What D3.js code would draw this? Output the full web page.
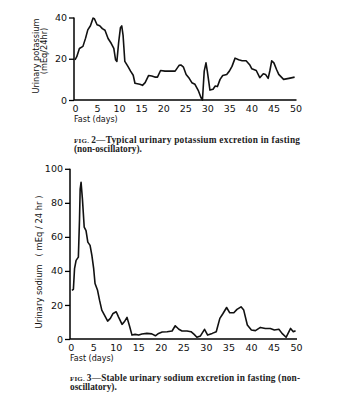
<!DOCTYPE html>
<html><head><meta charset="utf-8">
<script src="https://cdn.jsdelivr.net/npm/d3@7"></script>
<style>
html,body{margin:0;padding:0;background:#fff;}
svg{display:block;}
.tick text{font-family:"DejaVu Sans",sans-serif;}
</style>
</head><body>
<svg id="c" width="357" height="415"></svg>
<script>
// Fig. 2 — urinary potassium (mEq/24hr) by fast day
const kDays = [0,0.4,1,1.8,2.4,2.9,3.5,4.1,4.4,5.0,5.6,6.2,6.8,7.5,8.2,8.8,9.2,9.5,9.9,10.3,10.6,10.9,11.3,12.0,12.6,13.2,13.6,14.7,15.3,15.9,16.7,17.4,18.1,18.7,19.4,20.4,21.5,22.7,23.6,24.0,24.6,25.2,25.9,26.5,27.2,28.0,28.6,28.9,29.3,29.7,30.0,30.6,31.3,31.8,32.3,32.9,33.5,34.4,35.0,35.6,36.3,37.1,37.9,38.8,39.6,40.1,41.1,41.9,42.7,43.2,43.8,44.2,44.6,45.1,45.7,46.2,47.3,48.5,49.8];
const kValues = [19.5,21,25,26,30,34,36,39.7,39.4,36.5,36,34.6,33.8,29.8,27.5,25,19.5,18.7,28,35,35.9,31.4,18.7,16.3,14,12,8.1,7.6,7.1,8.4,11.9,11.6,11.1,11.1,14.3,14,14,14,16.8,17,15.9,12.4,10.5,8.4,7.6,4.4,1,0,14,18,14,4.8,5.2,6.8,6.5,10,11.9,12.4,14,16.3,20.3,19.5,19,19,17.1,15.1,14.3,10.8,12.7,12.4,10.5,14.3,19,18,14.8,12.4,10,10.5,11.1];
// Fig. 3 — urinary sodium (mEq/24 hr) by fast day
const naDays = [0.27,0.6,0.85,1.2,1.7,1.96,2.1,2.3,2.6,3.0,3.4,3.8,4.3,4.7,5.1,5.4,5.96,6.4,6.9,7.7,8.2,8.8,9.4,10.1,10.6,11.4,11.9,12.5,13.1,13.6,14.3,15.1,15.8,16.9,18.0,18.8,19.5,20.3,21.4,22.5,23.2,24.0,24.7,25.8,26.7,27.4,28.0,28.8,29.7,30.4,31.4,32.3,33.1,33.8,34.6,35.3,36.2,36.9,37.8,38.4,39.2,40.1,41.0,42.1,43.2,44.3,45.2,46.2,46.9,47.8,48.8,49.4,49.9];
const naValues = [28.6,29.2,41.3,46.2,48.1,70.6,88,92,82.3,65.7,63.7,56.9,55,49.1,41.3,32.6,28.6,22.8,17,13,10.5,12.1,15,16,13,8.6,10.1,12.7,7.2,2.3,2.7,2.3,2.9,3.3,3,1.9,3.3,4.1,4.3,4.7,7.8,5.7,4.7,4.7,4.3,2.7,1,1.8,5.7,2.3,3.3,4.3,12.1,15,18.5,15.4,15.4,17.4,18.9,17,8.2,5.3,4.9,6.8,6.2,6.2,5.3,5.7,3.3,1,6.2,4.3,4.9];

const xTicks = [0,5,10,15,20,25,30,35,40,45,50];
const kYTicks = [0,20,40];
const naYTicks = [0,20,40,60,80,100];

const svg = d3.select("#c");
const serif = "'Liberation Serif','DejaVu Serif',serif";
const sans = "'DejaVu Sans',sans-serif";

function panel(o){
  const g = svg.append("g");
  const x = d3.scaleLinear().domain([0,50]).range([o.x0,o.x1]);
  const y = d3.scaleLinear().domain([0,o.ymax]).range([o.y0,o.y1]);
  // y axis
  const ya = g.append("g").attr("transform",`translate(${o.ax},0)`)
    .call(d3.axisLeft(y).tickValues(o.yTicks).tickSize(5).tickPadding(2).tickFormat(d3.format("d")));
  ya.select(".domain").attr("stroke","#000").attr("stroke-width",1.5).attr("d",`M0,${o.y0}V${o.y1}`);
  ya.selectAll(".tick line").attr("stroke-width",1.3);
  ya.selectAll(".tick text").attr("font-size",9.5).attr("fill","#111");
  // x axis
  const xa = g.append("g").attr("transform",`translate(0,${o.y0})`)
    .call(d3.axisBottom(x).tickValues(xTicks).tickSize(0).tickPadding(5).tickFormat(d3.format("d")));
  xa.select(".domain").attr("stroke","#000").attr("stroke-width",1.5).attr("d",`M${o.ax},0H${o.x1+1}`);
  xa.selectAll(".tick text").attr("font-size",9.5).attr("fill","#111");
  // line
  const line = d3.line().x((d,i)=>x(o.days[i])).y(d=>y(d)).curve(d3.curveLinear);
  g.append("path").datum(o.values).attr("d",line).attr("fill","none")
    .attr("stroke","#111").attr("stroke-width",1.6).attr("stroke-linejoin","round");
  // x title
  g.append("text").attr("x",o.ax).attr("y",o.y0+22).attr("font-family",sans)
    .attr("font-size",8).attr("fill","#111").text("Fast (days)");
  // y titles
  o.ytitles.forEach(t=>{
    g.append("text").attr("transform",`translate(${t.x},${t.y}) rotate(-90)`)
      .attr("text-anchor","middle").attr("font-family",sans).attr("font-size",t.size)
      .attr("fill","#111").attr("xml:space","preserve").text(t.text);
  });
  // caption
  const c1 = g.append("text").attr("x",o.ax).attr("y",o.capY).attr("font-family",serif)
    .attr("font-size",9.3).attr("font-weight","bold").attr("fill","#222")
    .attr("textLength",o.capW).attr("lengthAdjust","spacing");
  c1.append("tspan").attr("font-size",7).text(o.fig);
  c1.append("tspan").text(o.cap1);
  g.append("text").attr("x",o.ax).attr("y",o.capY+8.6).attr("font-family",serif)
    .attr("font-size",9.3).attr("font-weight","bold").attr("fill","#222").text(o.cap2);
}

panel({x0:75,x1:295.5,y0:100,y1:17.5,ymax:40,ax:74,yTicks:kYTicks,days:kDays,values:kValues,
  ytitles:[{x:39,y:56,size:8.2,text:"Urinary potassium"},{x:47,y:51,size:8.2,text:"(mEq/24hr)"}],
  capY:143,capW:226,fig:"FIG. ",cap1:"2—Typical urinary potassium excretion in fasting",cap2:"(non-oscillatory)."});

panel({x0:70.7,x1:296,y0:339,y1:168.8,ymax:100,ax:70,yTicks:naYTicks,days:naDays,values:naValues,
  ytitles:[{x:42,y:262,size:8.4,text:"Urinary sodium   ( mEq / 24 hr )"}],
  capY:381,capW:230,fig:"FIG. ",cap1:"3—Stable urinary sodium excretion in fasting (non-",cap2:"oscillatory)."});
</script>
</body></html>
